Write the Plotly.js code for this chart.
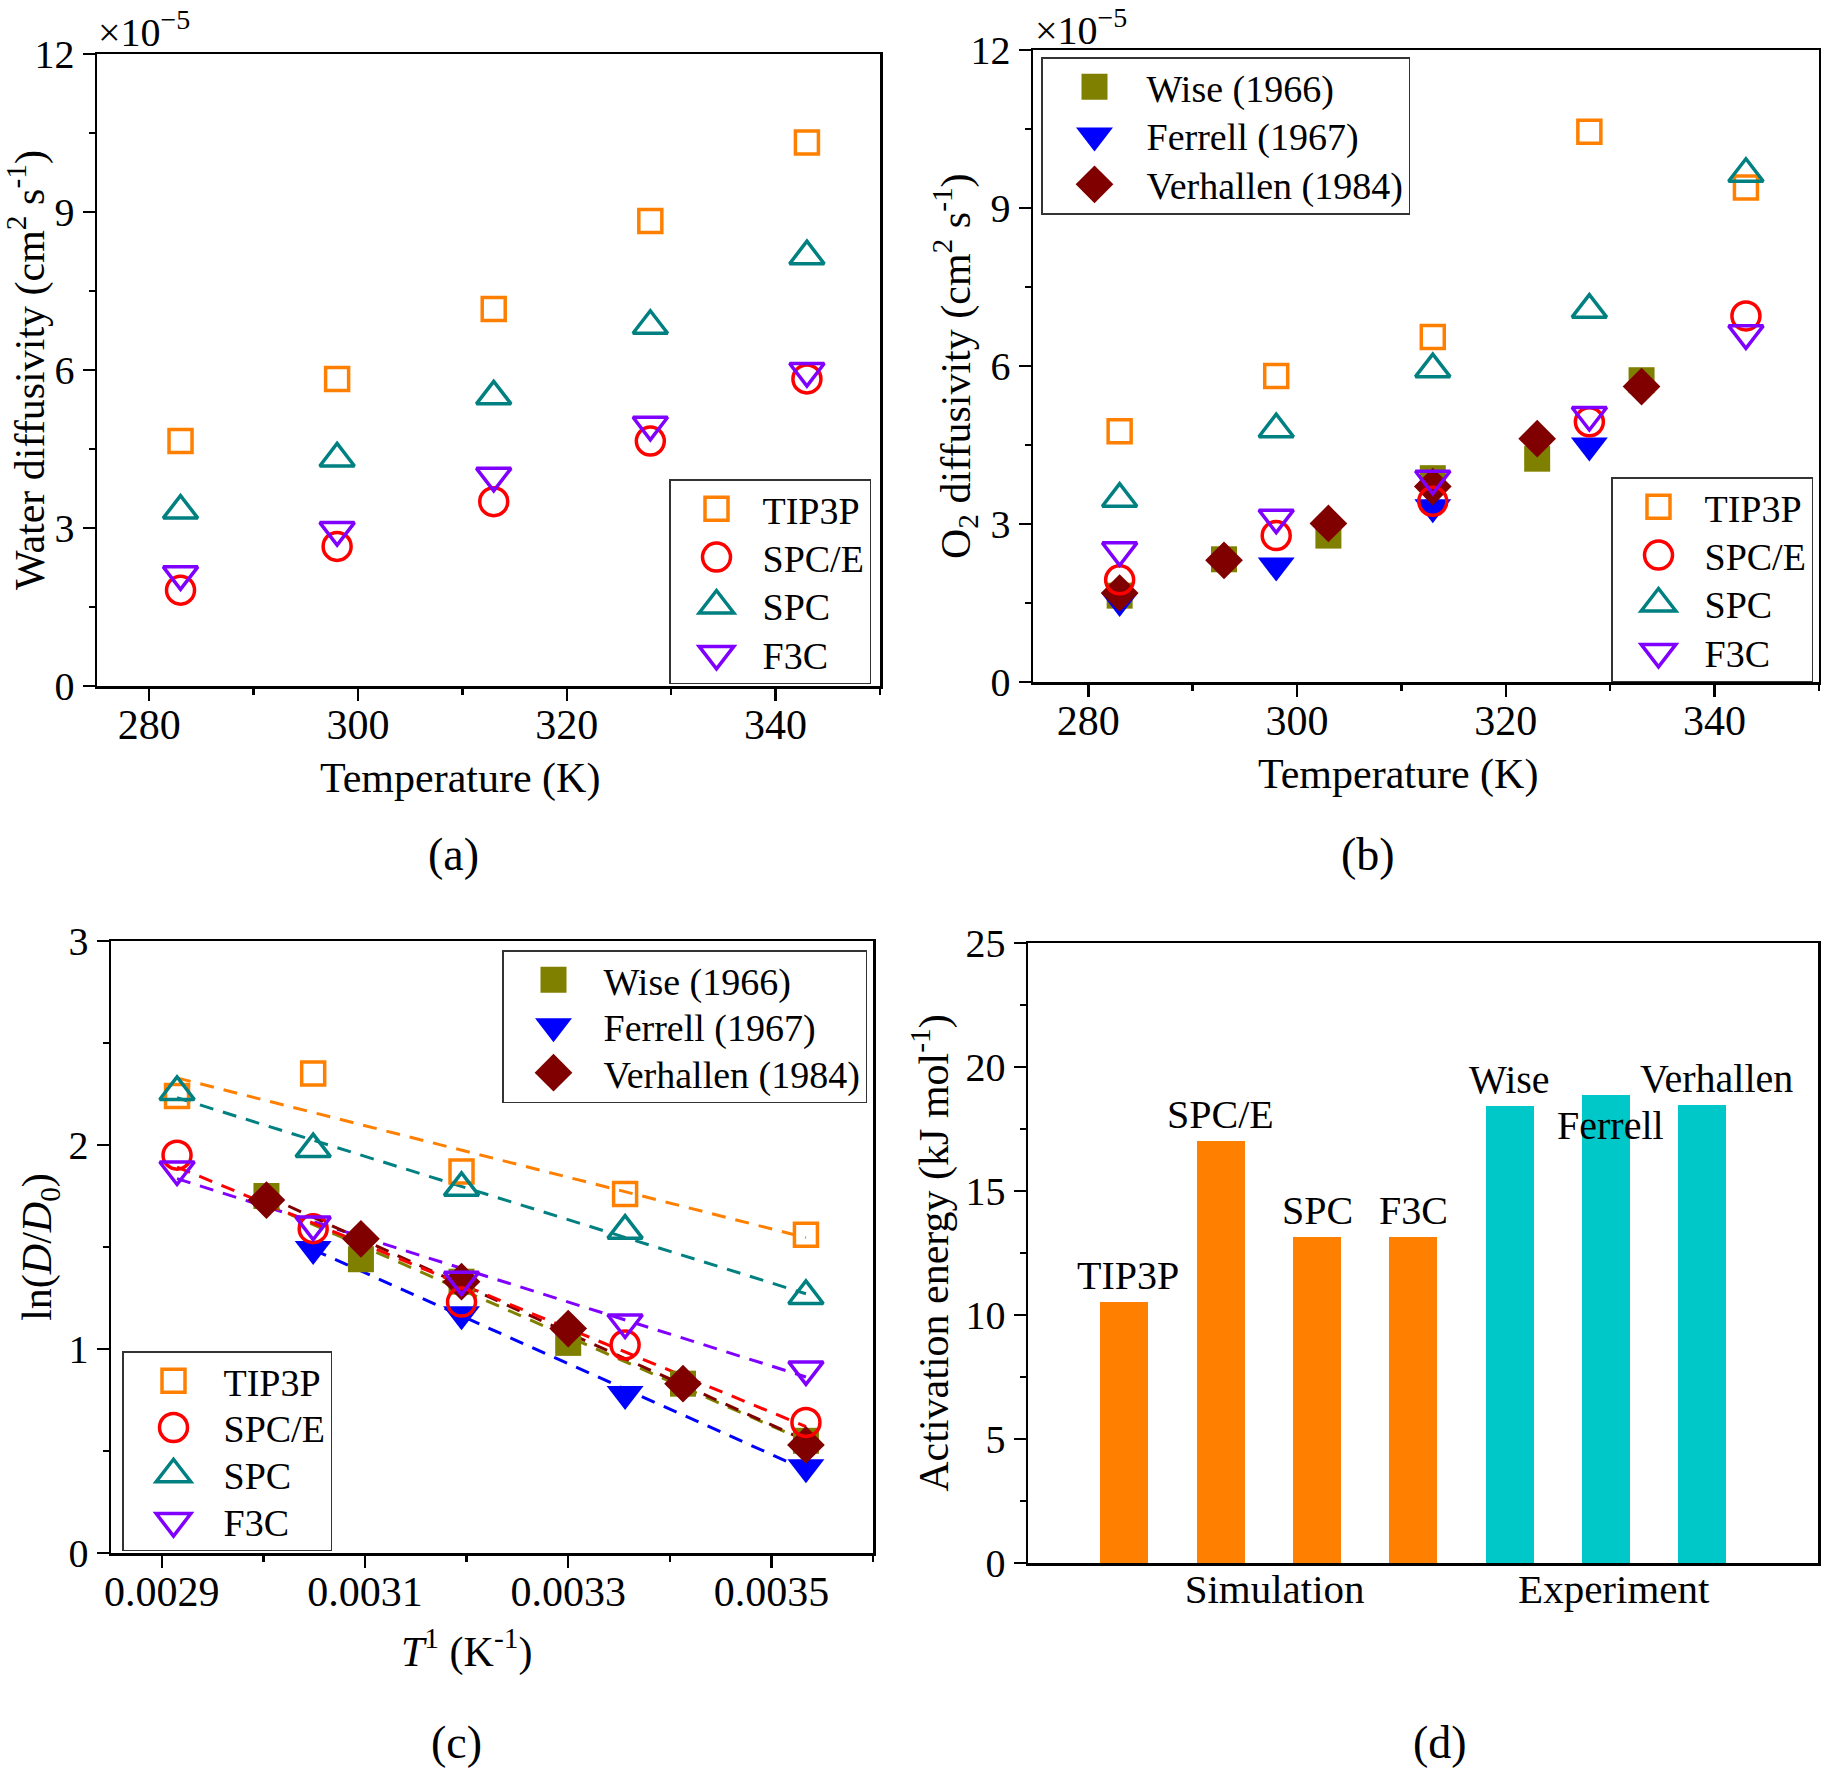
<!DOCTYPE html>
<html><head><meta charset="utf-8">
<script src="https://cdn.plot.ly/plotly-3.0.1.min.js"></script>
<style>html,body{margin:0;padding:0;background:#fff;} #chart{width:1821px;height:1771px;}</style>
</head><body><div id="chart"></div>
<script>
// ---------- data ----------
// (a) water self-diffusivity, units of 1e-5 cm^2 s^-1
const tempSim = [283, 298, 313, 328, 343];
const waterTIP3P = [4.65, 5.83, 7.16, 8.83, 10.32];
const waterSPCE  = [1.82, 2.65, 3.50, 4.65, 5.83];
const waterSPC   = [3.33, 4.32, 5.50, 6.84, 8.16];
const waterF3C   = [2.12, 2.96, 3.99, 4.96, 5.98];

// (b) O2 diffusivity, units of 1e-5 cm^2 s^-1
const o2TIP3P = [4.76, 5.81, 6.55, 10.45, 9.39];
const o2SPCE  = [1.94, 2.78, 3.43, 4.94, 6.95];
const o2SPC   = [3.48, 4.80, 5.94, 7.07, 9.65];
const o2F3C   = [2.50, 3.12, 3.86, 5.07, 6.62];
const tempWise = [283, 293, 303, 313, 323, 333];
const o2Wise   = [1.64, 2.33, 2.78, 3.87, 4.24, 5.73];
const tempFerrell = [283, 298, 313, 328];
const o2Ferrell   = [1.54, 2.21, 3.32, 4.49];
const tempVerhallen = [283, 293, 303, 313, 323, 333];
const o2Verhallen   = [1.69, 2.31, 3.01, 3.71, 4.62, 5.61];

// (c) ln(D/D0) vs 1/T
const invTSim = [0.002915, 0.003049, 0.003195, 0.003356, 0.003534];
const lnTIP3P = [2.24, 2.35, 1.87, 1.76, 1.56];
const lnSPCE  = [1.95, 1.59, 1.23, 1.02, 0.64];
const lnSPC   = [2.26, 1.98, 1.79, 1.58, 1.26];
const lnF3C   = [1.88, 1.61, 1.34, 1.13, 0.90];
const invTExp = [0.003003, 0.003096, 0.003195, 0.003300, 0.003413, 0.003534];
const lnWise  = [1.75, 1.44, 1.33, 1.03, 0.83, 0.55];
const invTFerrell = [0.003049, 0.003195, 0.003356, 0.003534];
const lnFerrell   = [1.49, 1.17, 0.78, 0.42];
const lnVerhallen = [1.73, 1.54, 1.33, 1.10, 0.83, 0.53];

// (d) activation energy, kJ/mol
const simNames  = ['TIP3P', 'SPC/E', 'SPC', 'F3C'];
const simIndex  = [1, 2, 3, 4];
const simEnergy = [10.51, 17.03, 13.15, 13.13];
const expNames  = ['Wise', 'Ferrell', 'Verhallen'];
const expIndex  = [5, 6, 7];
const expEnergy = [18.41, 18.86, 18.48];
const groupLabels = ['Simulation', 'Experiment'];

// ---------- styling ----------
const FONT = '"Liberation Serif", "Times New Roman", serif';
const COL = {tip3p:'#FF8000', spce:'#FF0000', spc:'#008080', f3c:'#8000FF',
             wise:'#808000', ferrell:'#0000FF', verhallen:'#800000',
             barSim:'#FF8000', barExp:'#00C8C8'};
const SYM = {
  tip3p:{symbol:'square-open', size:23},
  spce:{symbol:'circle-open', size:28},
  spc:{symbol:'triangle-up-open', size:30},
  f3c:{symbol:'triangle-down-open', size:30},
  wise:{symbol:'square', size:26},
  ferrell:{symbol:'triangle-down', size:32},
  verhallen:{symbol:'diamond', size:29}
};

function pts(x, y, name, key, xa, ya, legend) {
  const s = SYM[key];
  const open = s.symbol.indexOf('open') >= 0;
  return {type:'scatter', mode:'markers', x:x, y:y, name:name, xaxis:xa, yaxis:ya,
    legend:legend, hoverinfo:'skip',
    marker:{symbol:s.symbol, size:s.size, color:COL[key],
            line:{color:COL[key], width: open ? 3.5 : 0}}};
}
function fitLine(xs, ys, key, xa, ya) {
  const n = xs.length;
  const mx = xs.reduce((a,b)=>a+b,0)/n, my = ys.reduce((a,b)=>a+b,0)/n;
  let sxy = 0, sxx = 0;
  for (let i=0;i<n;i++){ sxy += (xs[i]-mx)*(ys[i]-my); sxx += (xs[i]-mx)*(xs[i]-mx); }
  const b = sxy/sxx, a = my - b*mx;
  const x0 = Math.min(...xs), x1 = Math.max(...xs);
  return {type:'scatter', mode:'lines', x:[x0,x1], y:[a+b*x0, a+b*x1], xaxis:xa, yaxis:ya,
    showlegend:false, hoverinfo:'skip', line:{color:COL[key], width:3, dash:'14px,10px'}};
}

const traces = [
  // (a)
  pts(tempSim, waterTIP3P, 'TIP3P', 'tip3p', 'x', 'y', 'legend'),
  pts(tempSim, waterSPCE, 'SPC/E', 'spce', 'x', 'y', 'legend'),
  pts(tempSim, waterSPC, 'SPC', 'spc', 'x', 'y', 'legend'),
  pts(tempSim, waterF3C, 'F3C', 'f3c', 'x', 'y', 'legend'),
  // (b)
  pts(tempWise, o2Wise, 'Wise (1966)', 'wise', 'x2', 'y2', 'legend3'),
  pts(tempFerrell, o2Ferrell, 'Ferrell (1967)', 'ferrell', 'x2', 'y2', 'legend3'),
  pts(tempVerhallen, o2Verhallen, 'Verhallen (1984)', 'verhallen', 'x2', 'y2', 'legend3'),
  pts(tempSim, o2TIP3P, 'TIP3P', 'tip3p', 'x2', 'y2', 'legend2'),
  pts(tempSim, o2SPCE, 'SPC/E', 'spce', 'x2', 'y2', 'legend2'),
  pts(tempSim, o2SPC, 'SPC', 'spc', 'x2', 'y2', 'legend2'),
  pts(tempSim, o2F3C, 'F3C', 'f3c', 'x2', 'y2', 'legend2'),
  // (c) fits
  fitLine(invTSim, lnTIP3P, 'tip3p', 'x3', 'y3'),
  fitLine(invTSim, lnSPC, 'spc', 'x3', 'y3'),
  fitLine(invTSim, lnF3C, 'f3c', 'x3', 'y3'),
  fitLine(invTExp, lnWise, 'wise', 'x3', 'y3'),
  fitLine(invTExp, lnVerhallen, 'verhallen', 'x3', 'y3'),
  fitLine(invTFerrell, lnFerrell, 'ferrell', 'x3', 'y3'),
  fitLine(invTSim, lnSPCE, 'spce', 'x3', 'y3'),
  // (c) points
  pts(invTExp, lnWise, 'Wise (1966)', 'wise', 'x3', 'y3', 'legend5'),
  pts(invTFerrell, lnFerrell, 'Ferrell (1967)', 'ferrell', 'x3', 'y3', 'legend5'),
  pts(invTExp, lnVerhallen, 'Verhallen (1984)', 'verhallen', 'x3', 'y3', 'legend5'),
  pts(invTSim, lnTIP3P, 'TIP3P', 'tip3p', 'x3', 'y3', 'legend4'),
  pts(invTSim, lnSPCE, 'SPC/E', 'spce', 'x3', 'y3', 'legend4'),
  pts(invTSim, lnSPC, 'SPC', 'spc', 'x3', 'y3', 'legend4'),
  pts(invTSim, lnF3C, 'F3C', 'f3c', 'x3', 'y3', 'legend4'),
  // (d)
  {type:'bar', x:simIndex, y:simEnergy, xaxis:'x4', yaxis:'y4', width:0.5, showlegend:false,
   hoverinfo:'skip', marker:{color:COL.barSim, line:{width:0}}},
  {type:'bar', x:expIndex, y:expEnergy, xaxis:'x4', yaxis:'y4', width:0.5, showlegend:false,
   hoverinfo:'skip', marker:{color:COL.barExp, line:{width:0}}}
];

// ---------- layout ----------
const W = 1821, H = 1771;
function px2x(p){ return p / W; }
function px2y(p){ return 1 - p / H; }

function axis(extra) {
  const base = {showline:true, mirror:true, linecolor:'black', linewidth:2.5,
    ticks:'outside', ticklen:12, tickwidth:2.5, tickcolor:'black',
    showgrid:false, zeroline:false, fixedrange:true,
    tickfont:{family:FONT, size:42, color:'black'}};
  const out = Object.assign(base, extra);
  if (extra.title) out.title = Object.assign({font:{family:FONT, size:42, color:'black'}}, extra.title);
  return out;
}
function minor(dtick, tick0) {
  return {ticks:'outside', ticklen:6, tickwidth:2.5, tickcolor:'black', dtick:dtick, tick0:tick0, showgrid:false};
}
const yTickFont = {family:FONT, size:40, color:'black'};

function legendCfg(xp, yp, itemwidth) {
  return {x:px2x(xp), y:px2y(yp), xref:'paper', yref:'paper', xanchor:'left', yanchor:'top',
    bgcolor:'#ffffff', bordercolor:'#333333', borderwidth:1.5,
    font:{family:FONT, size:38, color:'black'}, itemwidth:itemwidth,
    tracegroupgap:0, itemclick:false, itemdoubleclick:false};
}
// row pitch of each legend in the reference (px)
const legendRowPitch = {legend:48.4, legend2:48.4, legend3:48.8, legend4:46.8, legend5:46.5};

function paperText(text, xp, yp, size, angle) {
  return {text:text, xref:'paper', yref:'paper', x:px2x(xp), y:px2y(yp), xanchor:'center', yanchor:'middle',
    showarrow:false, textangle:angle || 0, font:{family:FONT, size:size, color:'black'}};
}

const annotations = [
  {text:'×10<sup>−5</sup>', xref:'paper', yref:'paper', x:px2x(96), y:px2y(2), xanchor:'left', yanchor:'top',
   showarrow:false, font:{family:FONT, size:40, color:'black'}},
  {text:'×10<sup>−5</sup>', xref:'paper', yref:'paper', x:px2x(1033), y:px2y(0), xanchor:'left', yanchor:'top',
   showarrow:false, font:{family:FONT, size:40, color:'black'}},
  // axis titles placed as in the reference (slightly off-centre)
  paperText('Temperature (K)', 460, 778, 42),
  paperText('Temperature (K)', 1398, 775, 42),
  paperText('<i>T</i><sup>1</sup> (K<sup>-1</sup>)', 467, 1649, 42),
  paperText('O<sub>2</sub> diffusivity (cm<sup>2</sup> s<sup>-1</sup>)', 955, 366, 42, -90),
  // panel labels
  paperText('(a)', 453, 854, 46),
  paperText('(b)', 1368, 854, 46),
  paperText('(c)', 456, 1742, 46),
  paperText('(d)', 1440, 1742, 46)
];
const labelShift = {Ferrell:{xshift:4, yanchor:'top', yshift:-6}, Verhallen:{xshift:14}, TIP3P:{xshift:4}};
simNames.concat(expNames).forEach(function(name, i){
  const xv = simIndex.concat(expIndex)[i];
  const yv = simEnergy.concat(expEnergy)[i];
  const s = labelShift[name] || {};
  annotations.push({text:name, xref:'x4', yref:'y4', x:xv, y:yv, showarrow:false,
    xanchor:'center', yanchor:s.yanchor || 'bottom', yshift:(s.yshift !== undefined ? s.yshift : 2), xshift:s.xshift || 0,
    font:{family:FONT, size:40, color:'black'}});
});

const layout = {
  width:W, height:H, margin:{l:0, r:0, t:0, b:0}, paper_bgcolor:'#ffffff', plot_bgcolor:'#ffffff',
  font:{family:FONT, color:'black'}, bargap:0,
  // (a)
  xaxis: axis({domain:[px2x(97), px2x(880)], anchor:'y', range:[275, 350], dtick:20, tick0:280, minor:minor(10, 280),
    ticklabelstandoff:-12}),
  yaxis: axis({domain:[px2y(686), px2y(54)], anchor:'x', range:[0, 12], dtick:3, tick0:0, minor:minor(1.5, 0),
    tickfont:yTickFont, title:{text:'Water diffusivity (cm<sup>2</sup> s<sup>-1</sup>)', standoff:0}}),
  // (b)
  xaxis2: axis({domain:[px2x(1033), px2x(1819)], anchor:'y2', range:[274.7, 350], dtick:20, tick0:280, minor:minor(10, 280),
    ticklabelstandoff:-12}),
  yaxis2: axis({domain:[px2y(682), px2y(50)], anchor:'x2', range:[0, 12], dtick:3, tick0:0, minor:minor(1.5, 0),
    tickfont:yTickFont}),
  // (c)
  xaxis3: axis({domain:[px2x(111), px2x(873)], anchor:'y3', range:[0.00285, 0.0036], dtick:0.0002, tick0:0.0029,
    minor:minor(0.0001, 0.0029), tickformat:'.4f', ticklabelstandoff:-12}),
  yaxis3: axis({domain:[px2y(1553), px2y(941)], anchor:'x3', range:[0, 3], dtick:1, tick0:0, minor:minor(0.5, 0),
    tickfont:yTickFont, title:{text:'ln(<i>D</i>/<i>D</i><sub>0</sub>)', standoff:4}}),
  // (d)
  xaxis4: axis({domain:[px2x(1028), px2x(1818)], anchor:'y4', range:[0, 8.2], tickvals:[2.56, 6.08], ticktext:groupLabels,
    ticks:'', ticklen:0, ticklabelstandoff:-12, tickfont:{family:FONT, size:41, color:'black'}}),
  yaxis4: axis({domain:[px2y(1563), px2y(943)], anchor:'x4', range:[0, 25], dtick:5, tick0:0, minor:minor(2.5, 0),
    tickfont:{family:FONT, size:40, color:'black'}, title:{text:'Activation energy (kJ mol<sup>-1</sup>)', standoff:4}}),
  legend:  legendCfg(669, 479, 82),
  legend2: legendCfg(1611, 477, 82),
  legend3: legendCfg(1041, 57, 94),
  legend4: legendCfg(122, 1351, 90),
  legend5: legendCfg(502, 950, 90),
  annotations: annotations
};

function readTranslate(el) {
  const t = el.getAttribute('transform') || '';
  const m = /translate\(\s*([-\d.e]+)[\s,]+([-\d.e]+)\s*\)/.exec(t);
  return m ? {x:parseFloat(m[1]), y:parseFloat(m[2])} : null;
}

const gd = document.getElementById('chart');
Plotly.newPlot(gd, traces, layout, {staticPlot:true, displayModeBar:false}).then(function(){
  // enlarge legend symbols to the trace's own marker size (legend caps them at 16px)
  gd.querySelectorAll('g.traces').forEach(function(g){
    const d = g.__data__;
    const tr = d && d[0] && d[0].trace;
    if (!tr || !tr.marker) return;
    const sc = tr.marker.size / 16;
    g.querySelectorAll('.legendpoints path').forEach(function(p){
      const t = p.getAttribute('transform') || '';
      p.setAttribute('transform', t + ' scale(' + sc + ')');
      const lw = tr.marker.line && tr.marker.line.width ? tr.marker.line.width : 0;
      if (lw) p.style.strokeWidth = (lw / sc) + 'px';
    });
  });
  // tighten legend row pitch to match the reference
  try {
    gd.querySelectorAll('.infolayer > g').forEach(function(lg){
      const cls = (lg.getAttribute('class') || '').trim();
      if (!legendRowPitch[cls]) return;
      let items = Array.from(lg.querySelectorAll('g.traces'));
      const groups = Array.from(lg.querySelectorAll('g.groups'));
      if (groups.length === items.length && items.length > 1) {
        const gy = groups.map(readTranslate);
        if (gy.every(Boolean) && gy[gy.length-1].y !== gy[0].y) items = groups;
      }
      if (items.length < 2) return;
      const pos = items.map(readTranslate);
      if (!pos.every(Boolean)) return;
      const oldStep = (pos[pos.length-1].y - pos[0].y) / (pos.length - 1);
      const newStep = legendRowPitch[cls];
      if (!(oldStep > newStep)) return;
      const lift = 3;
      items.forEach(function(it, i){
        it.setAttribute('transform', 'translate(' + pos[i].x + ',' + (pos[0].y - lift + i*newStep) + ')');
      });
      const shrink = (oldStep - newStep) * (pos.length - 1) + 2*lift;
      const bg = lg.querySelector('rect.bg');
      if (bg) {
        const h = parseFloat(bg.getAttribute('height'));
        if (h > shrink) bg.setAttribute('height', h - shrink);
      }
    });
  } catch (e) { /* keep default legend layout */ }
});
</script>
</body></html>
